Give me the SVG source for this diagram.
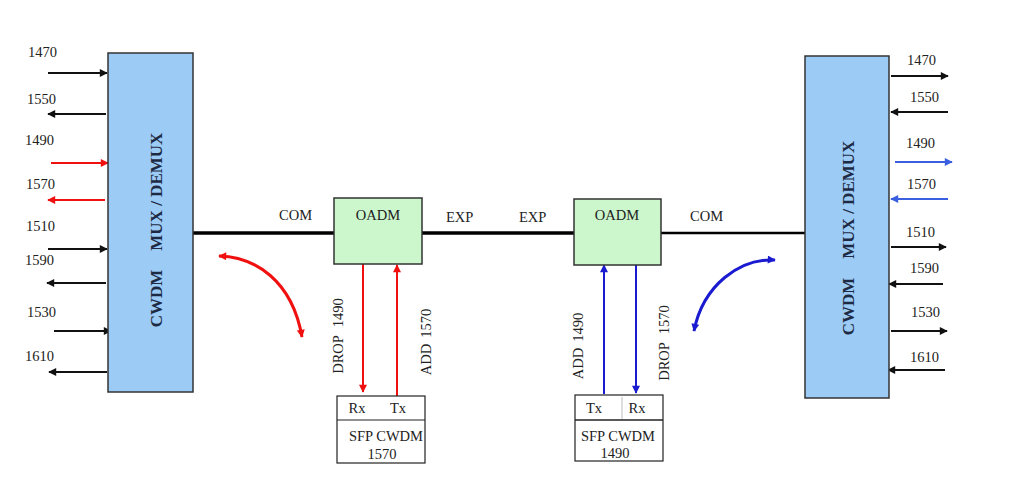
<svg xmlns="http://www.w3.org/2000/svg" width="1009" height="483" viewBox="0 0 1009 483">
<style>
text{font-family:"Liberation Serif","Times New Roman",serif;font-size:14.5px;fill:#222}
.mux{fill:#9cccf6;stroke:#333;stroke-width:1.5}
.oadm{fill:#ccf7cc;stroke:#333;stroke-width:1.5}
.sfp{fill:#fff;stroke:#222;stroke-width:1.2}
.big{font-size:17px;font-weight:bold;text-anchor:middle;fill:#1e2a44}
.mid{text-anchor:middle}
.k{stroke:#111;stroke-width:2;fill:none;marker-end:url(#ak)}
.r{stroke:#f01010;stroke-width:2;fill:none;marker-end:url(#ar)}
.b{stroke:#3a5fe0;stroke-width:2;fill:none;marker-end:url(#ab)}
.d{stroke:#1a1ad0;stroke-width:2;fill:none;marker-end:url(#ad)}
.fib{stroke:#000;stroke-width:3.5;fill:none}
</style>
<defs>
<marker id="ak" viewBox="0 0 10 10" refX="9" refY="5" markerWidth="9" markerHeight="8" orient="auto" markerUnits="userSpaceOnUse"><path d="M0,0 L10,5 L0,10 z" fill="#111"/></marker>
<marker id="ar" viewBox="0 0 10 10" refX="9" refY="5" markerWidth="9" markerHeight="8" orient="auto-start-reverse" markerUnits="userSpaceOnUse"><path d="M0,0 L10,5 L0,10 z" fill="#f01010"/></marker>
<marker id="ab" viewBox="0 0 10 10" refX="9" refY="5" markerWidth="9" markerHeight="8" orient="auto" markerUnits="userSpaceOnUse"><path d="M0,0 L10,5 L0,10 z" fill="#3a5fe0"/></marker>
<marker id="ad" viewBox="0 0 10 10" refX="9" refY="5" markerWidth="9" markerHeight="8" orient="auto-start-reverse" markerUnits="userSpaceOnUse"><path d="M0,0 L10,5 L0,10 z" fill="#1a1ad0"/></marker>
</defs>
<rect width="1009" height="483" fill="#fff"/>

<g id="connectors">
<line class="fib" x1="193" y1="233" x2="334" y2="233"/>
<line class="fib" x1="422" y1="233" x2="574" y2="233"/>
<line class="fib" x1="661" y1="233" x2="805" y2="233" style="stroke-width:2.5"/>
<line class="k" x1="48" y1="73" x2="107" y2="73"/>
<line class="k" x1="106" y1="114" x2="48" y2="114"/>
<line class="r" x1="51" y1="163" x2="108" y2="163"/>
<line class="r" x1="105" y1="200" x2="48" y2="200"/>
<line class="k" x1="48" y1="249" x2="107" y2="249"/>
<line class="k" x1="106" y1="283" x2="47" y2="283"/>
<line class="k" x1="54" y1="331" x2="111" y2="331"/>
<line class="k" x1="107" y1="372" x2="49" y2="372"/>
<line class="k" x1="891" y1="76" x2="948" y2="76"/>
<line class="k" x1="948" y1="112" x2="891" y2="112"/>
<line class="b" x1="895" y1="162" x2="952" y2="162"/>
<line class="b" x1="948" y1="199" x2="891" y2="199"/>
<line class="k" x1="891" y1="247" x2="946" y2="247"/>
<line class="k" x1="943" y1="284" x2="889" y2="284"/>
<line class="k" x1="891" y1="331" x2="947" y2="331"/>
<line class="k" x1="945" y1="370" x2="888" y2="370"/>
<line class="r" x1="363" y1="264" x2="363" y2="392"/>
<line class="r" x1="397" y1="396" x2="397" y2="265"/>
<line class="d" x1="604" y1="394" x2="604" y2="265"/>
<line class="d" x1="636" y1="265" x2="636" y2="393"/>
<path class="r" style="stroke-width:3;marker-start:url(#ar)" d="M219 256 C255 257 292 280 302 337"/>
<path class="d" style="stroke-width:3;marker-start:url(#ad)" d="M775 260 C740 258 703 285 694 331"/>
</g>

<g id="mux-left">
<rect class="mux" x="108" y="53" width="85" height="339"/>
<text class="big" transform="translate(162,230) rotate(-90)">CWDM<tspan dx="19">MUX / DEMUX</tspan></text>
</g>
<g id="mux-right">
<rect class="mux" x="805" y="56" width="84" height="342"/>
<text class="big" transform="translate(854,238) rotate(-90)">CWDM<tspan dx="19">MUX / DEMUX</tspan></text>
</g>

<g id="labels-left">
<text x="28" y="57">1470</text>
<text x="27" y="104">1550</text>
<text x="25" y="145">1490</text>
<text x="26" y="189">1570</text>
<text x="26" y="231">1510</text>
<text x="25" y="265">1590</text>
<text x="27" y="317">1530</text>
<text x="25" y="361">1610</text>
</g>
<g id="labels-right">
<text x="907" y="65">1470</text>
<text x="910" y="102">1550</text>
<text x="906" y="148">1490</text>
<text x="907" y="189">1570</text>
<text x="906" y="237">1510</text>
<text x="910" y="273">1590</text>
<text x="911" y="317">1530</text>
<text x="910" y="362">1610</text>
</g>

<g id="oadm-left">
<rect class="oadm" x="334" y="198" width="88" height="66"/>
<text class="mid" x="378" y="220">OADM</text>
</g>
<g id="oadm-right">
<rect class="oadm" x="574" y="199" width="87" height="66"/>
<text class="mid" x="617" y="220">OADM</text>
</g>

<g id="line-labels">
<text x="279" y="220">COM</text>
<text x="446" y="222">EXP</text>
<text x="519" y="222">EXP</text>
<text x="690" y="221">COM</text>
<text class="mid" transform="translate(343,336) rotate(-90)">DROP<tspan dx="8">1490</tspan></text>
<text class="mid" transform="translate(431,342) rotate(-90)">ADD<tspan dx="6">1570</tspan></text>
<text class="mid" transform="translate(583,346) rotate(-90)">ADD<tspan dx="6">1490</tspan></text>
<text class="mid" transform="translate(669,343) rotate(-90)">DROP<tspan dx="8">1570</tspan></text>
</g>

<g id="sfp-left">
<rect class="sfp" x="337" y="396" width="88" height="67"/>
<line x1="337" y1="420" x2="425" y2="420" stroke="#222" stroke-width="1.2"/>
<text class="mid" x="357" y="413">Rx</text>
<text class="mid" x="398" y="413">Tx</text>
<text class="mid" x="386" y="441">SFP CWDM</text>
<text class="mid" x="382" y="459">1570</text>
</g>
<g id="sfp-right">
<rect class="sfp" x="575" y="395" width="88" height="66"/>
<line x1="575" y1="420" x2="663" y2="420" stroke="#222" stroke-width="1.6"/>
<line x1="622" y1="397" x2="622" y2="419" stroke="#bbb" stroke-width="1"/>
<text class="mid" x="594" y="413">Tx</text>
<text class="mid" x="637" y="413">Rx</text>
<text class="mid" x="618" y="441">SFP CWDM</text>
<text class="mid" x="615" y="458">1490</text>
</g>
</svg>
